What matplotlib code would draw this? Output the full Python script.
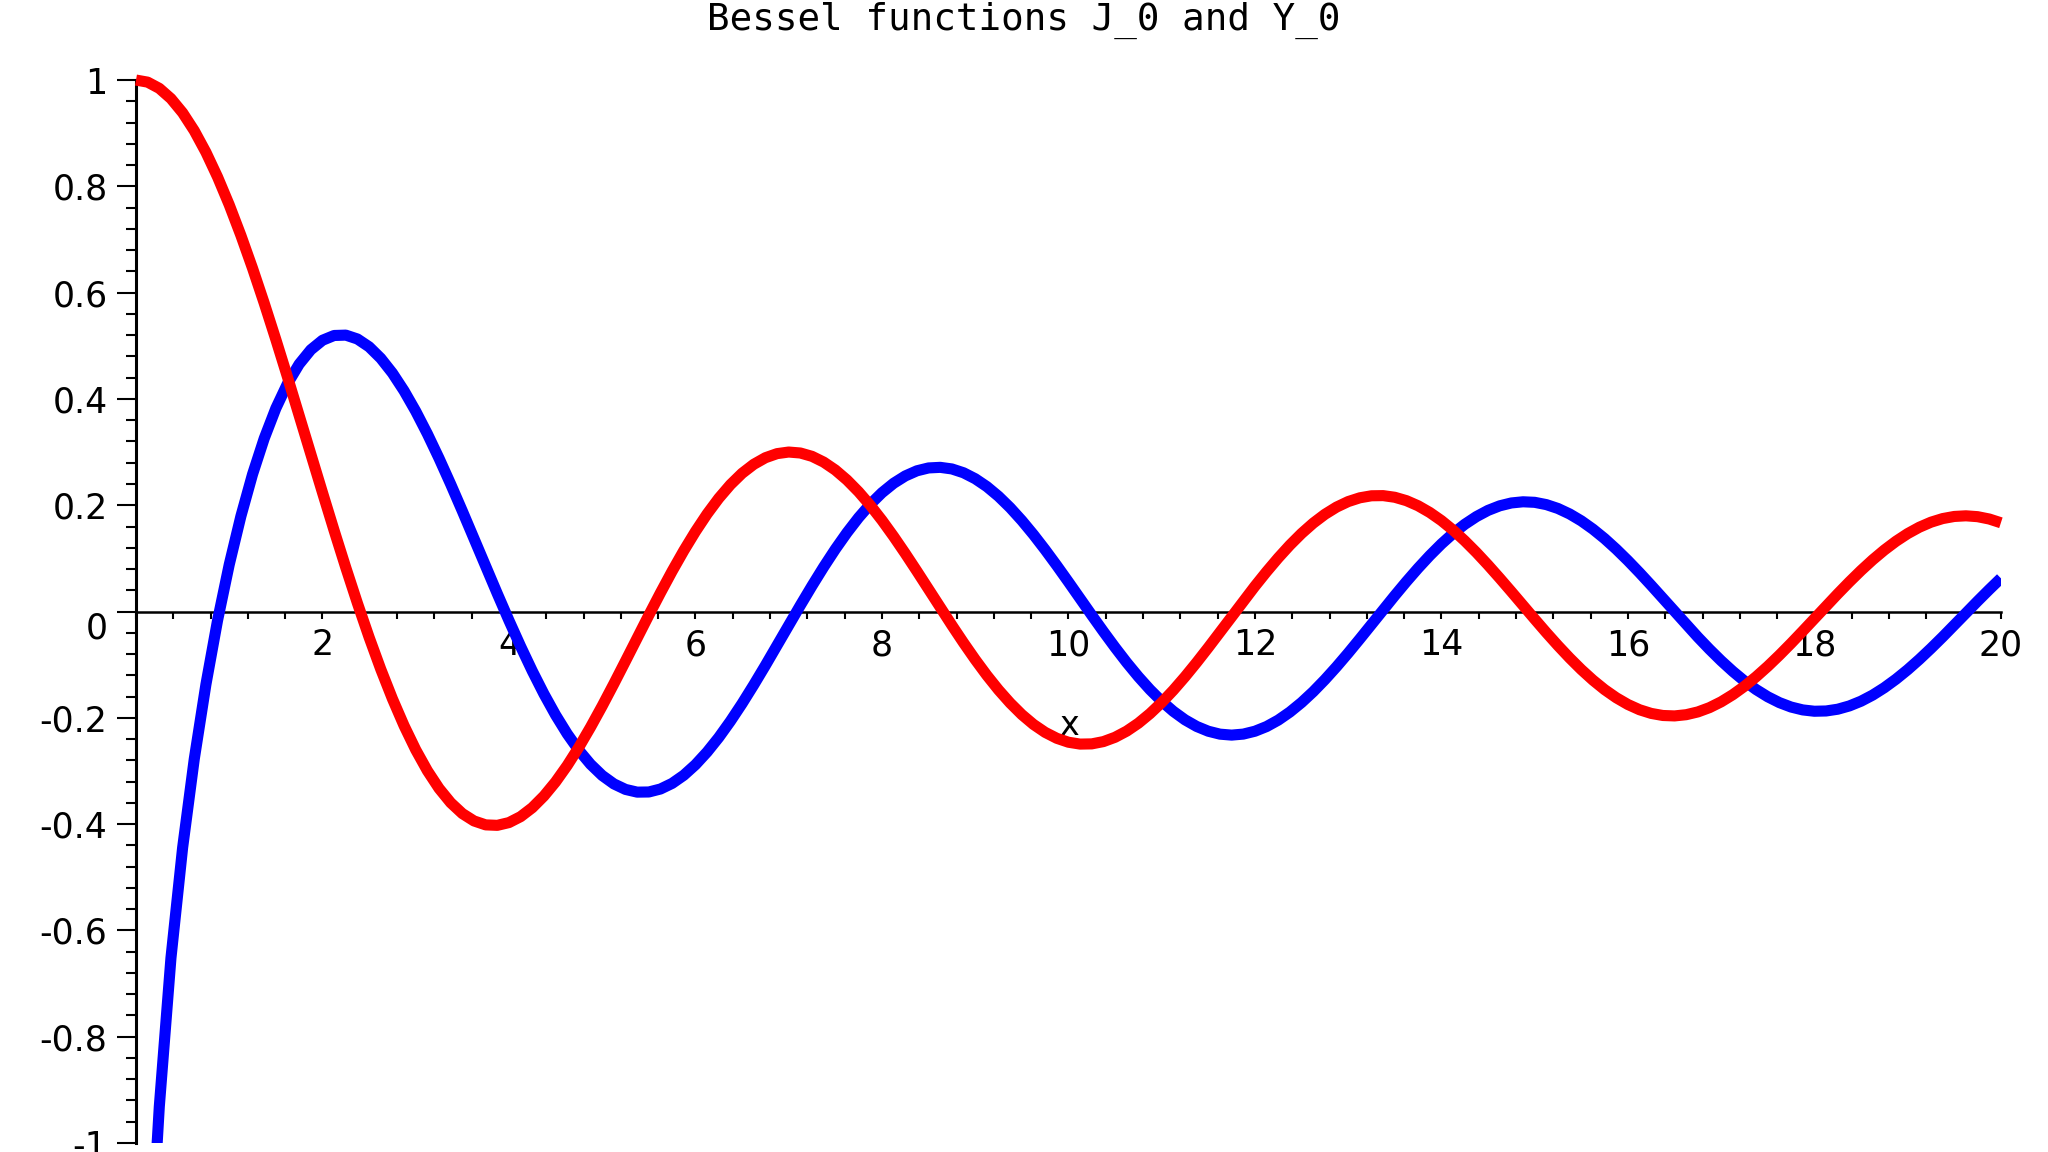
import matplotlib
matplotlib.use("Agg")
import matplotlib.pyplot as plt
from matplotlib.ticker import FixedLocator, FixedFormatter, MultipleLocator

title = "Bessel functions J_0 and Y_0"
x_label = "x"

# J_0 (red) sampled values
x_j0 = [0.0, 0.125, 0.25, 0.375, 0.5, 0.625, 0.75, 0.875,
        1.0, 1.125, 1.25, 1.375, 1.5, 1.625, 1.75, 1.875,
        2.0, 2.125, 2.25, 2.375, 2.5, 2.625, 2.75, 2.875,
        3.0, 3.125, 3.25, 3.375, 3.5, 3.625, 3.75, 3.875,
        4.0, 4.125, 4.25, 4.375, 4.5, 4.625, 4.75, 4.875,
        5.0, 5.125, 5.25, 5.375, 5.5, 5.625, 5.75, 5.875,
        6.0, 6.125, 6.25, 6.375, 6.5, 6.625, 6.75, 6.875,
        7.0, 7.125, 7.25, 7.375, 7.5, 7.625, 7.75, 7.875,
        8.0, 8.125, 8.25, 8.375, 8.5, 8.625, 8.75, 8.875,
        9.0, 9.125, 9.25, 9.375, 9.5, 9.625, 9.75, 9.875,
        10.0, 10.125, 10.25, 10.375, 10.5, 10.625, 10.75, 10.875,
        11.0, 11.125, 11.25, 11.375, 11.5, 11.625, 11.75, 11.875,
        12.0, 12.125, 12.25, 12.375, 12.5, 12.625, 12.75, 12.875,
        13.0, 13.125, 13.25, 13.375, 13.5, 13.625, 13.75, 13.875,
        14.0, 14.125, 14.25, 14.375, 14.5, 14.625, 14.75, 14.875,
        15.0, 15.125, 15.25, 15.375, 15.5, 15.625, 15.75, 15.875,
        16.0, 16.125, 16.25, 16.375, 16.5, 16.625, 16.75, 16.875,
        17.0, 17.125, 17.25, 17.375, 17.5, 17.625, 17.75, 17.875,
        18.0, 18.125, 18.25, 18.375, 18.5, 18.625, 18.75, 18.875,
        19.0, 19.125, 19.25, 19.375, 19.5, 19.625, 19.75, 19.875,
        20.0]
j0 = [1.0000, 0.9961, 0.9844, 0.9651, 0.9385, 0.9047, 0.8642, 0.8175,
      0.7652, 0.7077, 0.6459, 0.5803, 0.5118, 0.4411, 0.3690, 0.2963,
      0.2239, 0.1524, 0.0827, 0.0156, -0.0484, -0.1085, -0.1641, -0.2148,
      -0.2601, -0.2995, -0.3328, -0.3597, -0.3801, -0.3940, -0.4014, -0.4023,
      -0.3971, -0.3859, -0.3691, -0.3471, -0.3205, -0.2896, -0.2551, -0.2175,
      -0.1776, -0.1359, -0.0931, -0.0498, -0.0068, 0.0353, 0.0760, 0.1146,
      0.1506, 0.1836, 0.2131, 0.2387, 0.2601, 0.2770, 0.2894, 0.2971,
      0.3001, 0.2983, 0.2920, 0.2812, 0.2663, 0.2475, 0.2252, 0.1998,
      0.1717, 0.1413, 0.1092, 0.0759, 0.0419, 0.0078, -0.0259, -0.0588,
      -0.0903, -0.1200, -0.1474, -0.1721, -0.1939, -0.2124, -0.2273, -0.2385,
      -0.2459, -0.2494, -0.2490, -0.2447, -0.2366, -0.2250, -0.2101, -0.1920,
      -0.1712, -0.1480, -0.1227, -0.0958, -0.0677, -0.0388, -0.0097, 0.0193,
      0.0477, 0.0750, 0.1009, 0.1250, 0.1469, 0.1663, 0.1829, 0.1965,
      0.2069, 0.2140, 0.2178, 0.2181, 0.2150, 0.2086, 0.1990, 0.1864,
      0.1711, 0.1532, 0.1331, 0.1111, 0.0875, 0.0628, 0.0374, 0.0116,
      -0.0142, -0.0396, -0.0641, -0.0874, -0.1092, -0.1291, -0.1469, -0.1622,
      -0.1749, -0.1848, -0.1917, -0.1956, -0.1964, -0.1941, -0.1889, -0.1808,
      -0.1699, -0.1564, -0.1406, -0.1227, -0.1031, -0.0820, -0.0598, -0.0368,
      -0.0134, 0.0101, 0.0332, 0.0557, 0.0772, 0.0973, 0.1157, 0.1322,
      0.1466, 0.1586, 0.1681, 0.1749, 0.1789, 0.1801, 0.1785, 0.1741,
      0.1670]

# Y_0 (blue) sampled values
x_y0 = [0.2, 0.25, 0.375, 0.5, 0.625, 0.75, 0.875,
        1.0, 1.125, 1.25, 1.375, 1.5, 1.625, 1.75, 1.875,
        2.0, 2.125, 2.25, 2.375, 2.5, 2.625, 2.75, 2.875,
        3.0, 3.125, 3.25, 3.375, 3.5, 3.625, 3.75, 3.875,
        4.0, 4.125, 4.25, 4.375, 4.5, 4.625, 4.75, 4.875,
        5.0, 5.125, 5.25, 5.375, 5.5, 5.625, 5.75, 5.875,
        6.0, 6.125, 6.25, 6.375, 6.5, 6.625, 6.75, 6.875,
        7.0, 7.125, 7.25, 7.375, 7.5, 7.625, 7.75, 7.875,
        8.0, 8.125, 8.25, 8.375, 8.5, 8.625, 8.75, 8.875,
        9.0, 9.125, 9.25, 9.375, 9.5, 9.625, 9.75, 9.875,
        10.0, 10.125, 10.25, 10.375, 10.5, 10.625, 10.75, 10.875,
        11.0, 11.125, 11.25, 11.375, 11.5, 11.625, 11.75, 11.875,
        12.0, 12.125, 12.25, 12.375, 12.5, 12.625, 12.75, 12.875,
        13.0, 13.125, 13.25, 13.375, 13.5, 13.625, 13.75, 13.875,
        14.0, 14.125, 14.25, 14.375, 14.5, 14.625, 14.75, 14.875,
        15.0, 15.125, 15.25, 15.375, 15.5, 15.625, 15.75, 15.875,
        16.0, 16.125, 16.25, 16.375, 16.5, 16.625, 16.75, 16.875,
        17.0, 17.125, 17.25, 17.375, 17.5, 17.625, 17.75, 17.875,
        18.0, 18.125, 18.25, 18.375, 18.5, 18.625, 18.75, 18.875,
        19.0, 19.125, 19.25, 19.375, 19.5, 19.625, 19.75, 19.875,
        20.0]
y0 = [-1.0811, -0.9316, -0.6518, -0.4445, -0.2775, -0.1372, -0.0165,
      0.0883, 0.1793, 0.2582, 0.3256, 0.3824, 0.4289, 0.4655, 0.4925,
      0.5104, 0.5194, 0.5201, 0.5128, 0.4981, 0.4765, 0.4487, 0.4152,
      0.3769, 0.3343, 0.2883, 0.2396, 0.1890, 0.1373, 0.0853, 0.0336,
      -0.0169, -0.0656, -0.1119, -0.1551, -0.1947, -0.2302, -0.2612, -0.2874,
      -0.3085, -0.3243, -0.3347, -0.3398, -0.3395, -0.3339, -0.3233, -0.3080,
      -0.2882, -0.2643, -0.2369, -0.2063, -0.1732, -0.1380, -0.1014, -0.0638,
      -0.0259, 0.0117, 0.0484, 0.0838, 0.1173, 0.1484, 0.1768, 0.2019,
      0.2235, 0.2413, 0.2551, 0.2648, 0.2702, 0.2713, 0.2683, 0.2611,
      0.2499, 0.2351, 0.2168, 0.1954, 0.1712, 0.1447, 0.1163, 0.0865,
      0.0557, 0.0244, -0.0069, -0.0377, -0.0675, -0.0960, -0.1226, -0.1470,
      -0.1688, -0.1878, -0.2037, -0.2162, -0.2252, -0.2307, -0.2325, -0.2306,
      -0.2252, -0.2164, -0.2043, -0.1891, -0.1712, -0.1508, -0.1282, -0.1039,
      -0.0782, -0.0515, -0.0243, 0.0031, 0.0301, 0.0564, 0.0816, 0.1053,
      0.1272, 0.1469, 0.1641, 0.1786, 0.1903, 0.1989, 0.2043, 0.2065,
      0.2055, 0.2012, 0.1939, 0.1836, 0.1706, 0.1550, 0.1372, 0.1173,
      0.0958, 0.0730, 0.0492, 0.0248, 0.0002, -0.0242, -0.0481, -0.0710,
      -0.0926, -0.1126, -0.1308, -0.1468, -0.1604, -0.1714, -0.1797, -0.1851,
      -0.1876, -0.1871, -0.1838, -0.1776, -0.1687, -0.1572, -0.1433, -0.1273,
      -0.1095, -0.0901, -0.0694, -0.0478, -0.0255, -0.0030, 0.0195, 0.0414,
      0.0626]

x_ticks = [2, 4, 6, 8, 10, 12, 14, 16, 18, 20]
x_tick_labels = ["2", "4", "6", "8", "10", "12", "14", "16", "18", "20"]
y_ticks = [1.0, 0.8, 0.6, 0.4, 0.2, 0.0, -0.2, -0.4, -0.6, -0.8, -1.0]
y_tick_labels = ["1", "0.8", "0.6", "0.4", "0.2", "0", "-0.2", "-0.4", "-0.6", "-0.8", "-1"]

plt.rcParams["font.family"] = ["DejaVu Sans"]

fig = plt.figure(figsize=(20.48, 11.52), dpi=100)
fig.patch.set_facecolor("white")
ax = fig.add_axes([0.0664, 0.0078, 0.9106, 0.9227])
ax.set_facecolor("white")

ax.plot(x_y0, y0, color="#0000ff", lw=8, solid_capstyle="butt",
        solid_joinstyle="round", zorder=3)
ax.plot(x_j0, j0, color="#ff0000", lw=8, solid_capstyle="butt",
        solid_joinstyle="round", zorder=4, clip_on=False)

ax.set_xlim(0, 20)
ax.set_ylim(-1, 1)

for s in ("top", "right"):
    ax.spines[s].set_visible(False)
ax.spines["left"].set_position(("data", 0))
ax.spines["bottom"].set_position(("data", 0))
ax.spines["left"].set_linewidth(2.2)
ax.spines["bottom"].set_linewidth(1.8)

ax.xaxis.set_major_locator(FixedLocator(x_ticks))
ax.xaxis.set_major_formatter(FixedFormatter(x_tick_labels))
ax.xaxis.set_minor_locator(MultipleLocator(0.4))
ax.yaxis.set_major_locator(FixedLocator(y_ticks))
ax.yaxis.set_major_formatter(FixedFormatter(y_tick_labels))
ax.yaxis.set_minor_locator(MultipleLocator(0.04))

ax.tick_params(axis="x", which="both", direction="out", length=5, width=1.5,
               pad=7, labelsize=25, color="black")
ax.tick_params(axis="y", which="major", direction="out", length=13.5, width=1.5,
               pad=7, labelsize=25, color="black")
ax.tick_params(axis="y", which="minor", direction="out", length=7, width=1.5)

# the "0" label of the y axis sits just below the x axis
for tick, val in zip(ax.yaxis.get_major_ticks(), y_ticks):
    if val == 0:
        tick.label1.set_verticalalignment("top")

ax.set_xlabel(x_label, fontsize=24)
ax.xaxis.set_label_coords(0.5, 0.4085)

fig.text(0.5, 1 - 30 / 1152, title, ha="center", va="baseline",
         fontsize=27, family="DejaVu Sans Mono")

fig.savefig("out.png", dpi=100, facecolor="white")
